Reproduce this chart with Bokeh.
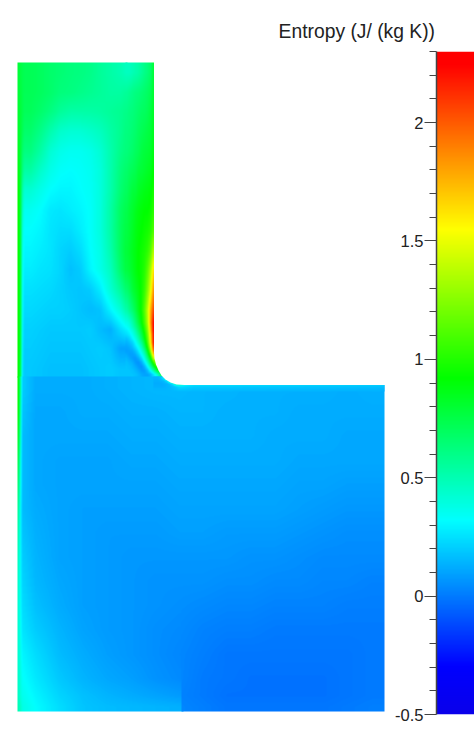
import numpy as np
from bokeh.embed import file_html
from bokeh.layouts import column, row
from bokeh.models import FixedTicker, Label, LinearColorMapper, Range1d
from bokeh.plotting import figure
from bokeh.resources import INLINE

title_text = "Entropy (J/ (kg K))"
tick_values = [-0.5, 0, 0.5, 1, 1.5, 2]
tick_labels = ["-0.5", "0", "0.5", "1", "1.5", "2"]
minor_tick_values = [-0.4, -0.3, -0.2, -0.1, 0.1, 0.2, 0.3, 0.4, 0.6, 0.7, 0.8, 0.9,
                     1.1, 1.2, 1.3, 1.4, 1.6, 1.7, 1.8, 1.9, 2.1, 2.2, 2.3]
scale_low, scale_high = -0.5, 2.3
rainbow_stops = [-0.5, -0.3, 0.32, 0.92, 1.55, 2.25, 2.3]
rainbow_colors = [(10, 0, 235), (0, 0, 255), (0, 255, 255), (0, 255, 0), (255, 255, 0), (255, 0, 0), (255, 0, 0)]

# Entropy at sample sites (page pixels), rows top to bottom.
chamber_rows = [72, 92, 111, 131, 151, 171, 190, 210, 230, 250, 269, 289, 309, 329, 348, 368]
chamber_cols = [18, 20, 22, 24, 30, 40, 50, 60, 70, 80, 90, 100, 110, 120]
chamber_values = [
 [.79,.76,.74,.72,.72,.70,.67,.65,.63,.62,.60,.56,.53,.50],
 [.79,.77,.74,.72,.72,.70,.67,.63,.62,.60,.58,.56,.54,.54],
 [.81,.78,.74,.71,.71,.67,.62,.56,.53,.53,.53,.54,.56,.58],
 [.82,.78,.72,.67,.67,.60,.51,.44,.42,.42,.44,.47,.53,.58],
 [.85,.78,.67,.62,.62,.53,.42,.37,.35,.35,.37,.42,.51,.60],
 [.88,.78,.62,.53,.53,.44,.37,.33,.32,.33,.35,.40,.51,.63],
 [.92,.78,.52,.42,.42,.37,.32,.30,.30,.32,.34,.40,.51,.65],
 [.92,.78,.46,.35,.35,.32,.27,.26,.28,.30,.33,.40,.53,.69],
 [.92,.78,.40,.32,.32,.30,.26,.24,.24,.28,.33,.40,.53,.70],
 [.92,.78,.37,.30,.30,.28,.26,.22,.20,.24,.32,.38,.51,.70],
 [.92,.78,.35,.28,.28,.26,.25,.22,.17,.20,.30,.37,.47,.67],
 [.92,.78,.33,.25,.25,.24,.23,.21,.19,.18,.20,.28,.42,.56],
 [.92,.78,.32,.23,.23,.22,.21,.21,.20,.18,.16,.18,.30,.42],
 [.92,.78,.30,.21,.21,.20,.19,.19,.19,.19,.20,.16,.13,.24],
 [.92,.78,.28,.20,.20,.19,.18,.18,.18,.18,.19,.20,.18,.10],
 [.92,.74,.26,.19,.19,.18,.17,.17,.17,.17,.18,.19,.20,.18],
]
wall_cols = [126, 129, 132, 135, 138, 141, 144, 147, 150, 153, 156, 159, 162, 165, 168, 171, 174, 177, 180, 183]
wall_upper_rows = [72, 92, 112, 131, 151, 171, 191, 211, 231, 251, 270, 290, 310]
wall_upper_values = [
 [.47,.47,.49,.51,.53,.56,.60,.63,.67,.79],
 [.56,.58,.60,.62,.63,.65,.67,.69,.72,.81],
 [.60,.62,.63,.65,.67,.69,.70,.72,.76,.83],
 [.62,.63,.65,.67,.70,.72,.74,.76,.78,.85],
 [.63,.65,.67,.70,.72,.76,.78,.79,.81,.88],
 [.67,.70,.72,.74,.78,.79,.81,.83,.85,.92],
 [.70,.74,.78,.79,.83,.85,.87,.88,.90,.98],
 [.74,.78,.81,.85,.88,.90,.92,.92,.95,1.03],
 [.76,.79,.83,.87,.90,.92,.95,.97,1.01,1.13],
 [.78,.81,.85,.88,.92,.95,.98,1.03,1.13,1.38],
 [.76,.79,.83,.88,.92,.95,1.01,1.13,1.33,1.63],
 [.65,.70,.78,.83,.88,.95,1.05,1.23,1.48,1.85],
 [.51,.58,.65,.74,.85,.95,1.13,1.38,1.75,2.07],
]
wall_lower_rows = [322, 326, 330, 334, 338, 342, 346, 350, 354, 358, 362, 366, 370, 374]
wall_lower_values = [
 [.37,.42,.51,.63,.76,.90,1.08,1.33,1.80,2.25,2.25,2.25,2.25,2.25,2.25,2.25,2.25,2.25,2.25,2.25],
 [.33,.38,.47,.58,.70,.85,1.03,1.28,1.75,2.25,2.25,2.25,2.25,2.25,2.25,2.25,2.25,2.25,2.25,2.25],
 [.28,.33,.40,.51,.65,.79,.98,1.23,1.70,2.25,2.25,2.25,2.25,2.25,2.25,2.25,2.25,2.25,2.25,2.25],
 [.24,.28,.35,.45,.58,.74,.92,1.18,1.63,2.20,2.20,2.20,2.20,2.20,2.20,2.20,2.20,2.20,2.20,2.20],
 [.18,.22,.30,.38,.51,.67,.88,1.13,1.58,2.20,2.20,2.20,2.20,2.20,2.20,2.20,2.20,2.20,2.20,2.20],
 [.14,.17,.22,.32,.44,.58,.79,1.08,1.53,2.20,2.20,2.20,2.20,2.20,2.20,2.20,2.20,2.20,2.20,2.20],
 [.11,.13,.17,.26,.35,.49,.70,.98,1.43,2.08,2.08,2.08,2.08,2.08,2.08,2.08,2.08,2.08,2.08,2.08],
 [.09,.10,.12,.18,.28,.40,.58,.85,1.28,1.95,1.95,1.95,1.95,1.95,1.95,1.95,1.95,1.95,1.95,1.95],
 [.12,.09,.09,.12,.20,.32,.47,.72,1.08,1.68,1.68,1.68,1.68,1.68,1.68,1.68,1.68,1.68,1.68,1.68],
 [.15,.12,.09,.07,.12,.22,.37,.58,.88,1.38,1.53,1.53,1.53,1.53,1.53,1.53,1.53,1.53,1.53,1.53],
 [.17,.15,.13,.08,.06,.12,.26,.44,.70,1.03,1.33,1.33,1.33,1.33,1.33,1.33,1.33,1.33,1.33,1.33],
 [.18,.17,.15,.12,.08,.06,.14,.30,.51,.79,1.03,1.03,1.03,1.03,1.03,1.03,1.03,1.03,1.03,1.03],
 [.18,.18,.17,.15,.12,.08,.08,.16,.32,.51,.74,.92,.92,.92,.92,.92,.92,.92,.92,.92],
 [.18,.18,.18,.17,.15,.12,.10,.10,.14,.24,.37,.56,.79,.92,.92,.92,.92,.92,.92,.92],
]
fillet_rows = [377.5, 380.5, 383.5, 386, 391]
fillet_cols = [154.5, 157.5, 160.5, 163.5, 166.5, 169.5, 172.5, 175.5, 178.5, 181.5, 184.5, 187.5, 190.5, 193.5, 383]
fillet_values = [
 [.14,.14,.18,.30,.78,.92,.92,.92,.92,.92,.92,.92,.92,.92,.92],
 [.13,.13,.14,.16,.25,.51,.78,.92,.92,.92,.92,.92,.92,.92,.92],
 [.12,.12,.12,.13,.14,.18,.28,.51,.56,.47,.38,.34,.32,.30,.24],
 [.13,.13,.13,.13,.14,.15,.17,.20,.24,.24,.23,.22,.21,.20,.17],
 [.15,.15,.15,.15,.15,.15,.15,.15,.15,.15,.15,.15,.15,.15,.13],
]
block_rows = [388, 412, 436, 460, 484, 509, 533, 557, 581, 605, 629, 654, 678, 695, 706]
block_left_cols = [18, 20, 22, 35, 59, 83, 107, 131, 155, 179]
block_left_values = [
 [.92,.56,.20,.12,.12,.12,.13,.14,.15,.15],
 [.92,.51,.18,.11,.11,.12,.12,.13,.13,.14],
 [.83,.47,.16,.11,.11,.11,.11,.12,.12,.13],
 [.74,.40,.16,.11,.10,.10,.10,.11,.11,.12],
 [.65,.37,.16,.11,.10,.10,.10,.10,.10,.11],
 [.56,.33,.16,.12,.10,.09,.09,.09,.09,.10],
 [.51,.32,.18,.13,.10,.09,.08,.08,.08,.09],
 [.47,.32,.20,.14,.10,.09,.08,.07,.07,.07],
 [.45,.32,.22,.15,.11,.09,.08,.07,.06,.06],
 [.43,.33,.24,.17,.12,.09,.08,.07,.06,.05],
 [.43,.35,.26,.20,.14,.10,.08,.07,.05,.04],
 [.43,.37,.30,.24,.16,.12,.09,.07,.05,.03],
 [.45,.39,.33,.27,.19,.14,.11,.09,.06,.04],
 [.46,.40,.36,.30,.22,.17,.14,.12,.10,.08],
 [.50,.44,.38,.32,.24,.18,.16,.15,.14,.13],
]
block_right_cols = [179, 203, 227, 251, 275, 299, 323, 347, 371]
block_right_values = [
 [.15,.14,.14,.13,.13,.13,.13,.12,.13],
 [.14,.14,.13,.13,.13,.12,.12,.12,.12],
 [.13,.13,.13,.13,.12,.12,.12,.11,.11],
 [.12,.12,.12,.12,.12,.11,.11,.11,.11],
 [.11,.11,.11,.11,.11,.10,.10,.09,.09],
 [.10,.10,.10,.10,.10,.09,.08,.07,.07],
 [.09,.09,.08,.08,.08,.07,.06,.05,.05],
 [.07,.07,.07,.06,.06,.05,.04,.04,.04],
 [.06,.06,.05,.05,.04,.04,.03,.03,.02],
 [.05,.04,.03,.03,.02,.02,.02,.01,.01],
 [.04,.02,.01,.01,.00,.00,.00,.00,.00],
 [.03,.01,-.01,-.01,-.01,-.01,-.01,-.01,.00],
 [.03,.00,-.01,-.02,-.02,-.02,-.02,-.01,.00],
 [.02,.00,-.02,-.02,-.02,-.02,-.02,-.01,.00],
 [.03,.01,-.01,-.01,-.01,-.01,-.01,.00,.01],
]
# Outline of the solid above the fillet, in page pixels
wall_x = [153.5, 153.5, 154, 155.5, 158, 161, 165, 170, 176, 184, 385, 385]
wall_y = [40, 352, 358, 364, 370, 375, 379, 382, 384, 384.5, 384.5, 40]

stops = np.array(rainbow_stops)
level = np.linspace(scale_low, scale_high, 512)
rgb = np.array(rainbow_colors, float)
channels = [np.interp(level, stops, rgb[:, k]) for k in range(3)]
palette = ["#%02x%02x%02x" % (int(a), int(b), int(c)) for a, b, c in zip(*channels)]
mapper = LinearColorMapper(palette=palette, low=scale_low, high=scale_high)

FONT = "Liberation Sans"
header = figure(width=474, height=51, x_range=Range1d(0, 474), y_range=Range1d(51, 0),
                output_backend="svg", toolbar_location=None, min_border=0, outline_line_color=None)
header.axis.visible = False
header.grid.visible = False
header.add_layout(Label(x=434.5, y=31, text=title_text, text_align="right", text_baseline="middle",
                        text_font=FONT, text_font_size="19.3px", text_color="#222222"))

flow = figure(width=392, height=679, x_range=Range1d(0, 392), y_range=Range1d(16, 679),
              output_backend="svg", toolbar_location=None, min_border=0, min_border_bottom=16,
              outline_line_color=None)
flow.axis.visible = False
flow.grid.visible = False


def shade(table, cols, rows, x0, x1, y0, y1):
    """Bokeh images have no smooth shading, so the read table is shaded bilinearly to a 1px raster."""
    table = np.asarray(table, float)
    gx = np.arange(x0, x1) + 0.5
    gy = np.arange(y0, y1) + 0.5
    by_row = np.array([np.interp(gy, rows, table[:, c]) for c in range(table.shape[1])]).T
    return np.array([np.interp(gx, cols, line) for line in by_row])


def draw(raster, x0, y0):
    h, w = raster.shape
    flow.image(image=[np.flipud(raster)], x=x0, y=730 - (y0 + h), dw=w, dh=h, color_mapper=mapper)


upper = np.array(wall_upper_values, float)
upper = np.hstack([upper, np.repeat(upper[:, -1:], 10, axis=1)])
wall_table = np.vstack([upper, np.array(wall_lower_values, float)])
wall_raster = shade(wall_table, wall_cols, wall_upper_rows + wall_lower_rows, 125, 185, 62, 377)
# the left table ends on the wall table's first column, so the two join without a seam
joint = np.array([wall_raster[int(r) - 62, 0] for r in chamber_rows]).reshape(-1, 1)
chamber_table = np.hstack([np.array(chamber_values, float), joint])
draw(shade(chamber_table, chamber_cols + [125], chamber_rows, 17, 127, 62, 377), 17, 62)
draw(wall_raster, 125, 62)
draw(shade(block_left_values, block_left_cols, block_rows, 17, 183, 376, 711), 17, 376)
draw(shade(block_right_values, block_right_cols, block_rows, 181, 384, 376, 711), 181, 376)
draw(shade(fillet_values, fillet_cols, fillet_rows, 153, 384, 376, 391), 153, 376)
flow.patch(x=wall_x, y=[730 - v for v in wall_y], fill_color="white", line_color=None)

bar = figure(width=82, height=679, x_range=Range1d(0, 1), y_range=Range1d(scale_low, scale_high),
             output_backend="svg", toolbar_location=None, min_border_left=44, min_border_right=0,
             min_border_top=0, min_border_bottom=16, outline_line_color=None, y_axis_location="left")
bar.xaxis.visible = False
bar.grid.visible = False
bar.image(image=[level.reshape(-1, 1)], x=0, y=scale_low, dw=1, dh=scale_high - scale_low, color_mapper=mapper)
axis = bar.yaxis[0]
axis.ticker = FixedTicker(ticks=tick_values, minor_ticks=minor_tick_values)
axis.major_label_overrides = dict(zip(tick_values, tick_labels))
axis.major_label_text_font = FONT
axis.major_label_text_font_size = "16.5px"
axis.major_label_text_color = "#222222"
axis.major_label_standoff = 1
axis.major_tick_in = 0
axis.major_tick_out = 12
axis.minor_tick_in = 0
axis.minor_tick_out = 7
axis.axis_line_color = "#444444"
axis.axis_line_width = 1.5
axis.major_tick_line_color = "#444444"
axis.minor_tick_line_color = "#444444"

page = column(header, row(flow, bar))
open("out.html", "w").write(file_html(page, INLINE))
